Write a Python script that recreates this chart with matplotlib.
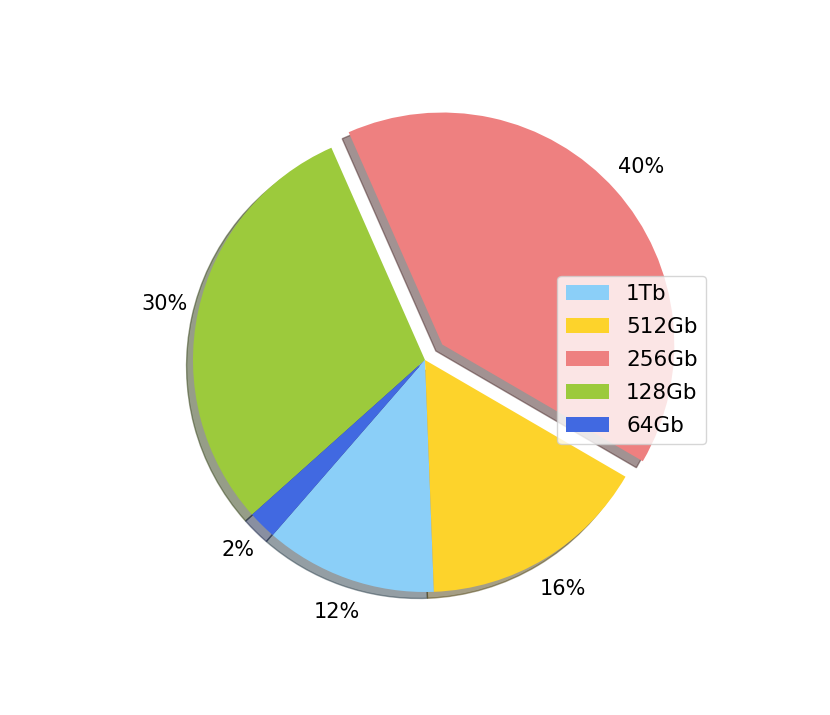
import matplotlib
matplotlib.use("Agg")
import matplotlib.pyplot as plt

labels = ['1Tb', '512Gb', '256Gb', '128Gb', '64Gb']
sizes = [12, 16, 40, 30, 2]
colors = ['#8bcff8', '#fdd32b', '#ee8080', '#9cca3c', '#4169e1']
explode = [0, 0, 0.1, 0, 0]

plt.rcParams['font.size'] = 15

fig = plt.figure(figsize=(8.3, 7.15), dpi=100)
# axes placed so the pie centre and radius match the reference
ax = fig.add_axes([(425 - 290) / 830, (355 - 290) / 715, 580 / 830, 580 / 715])

wedges, texts, autotexts = ax.pie(sizes, explode=explode, colors=colors,
                                  autopct='%1.0f%%', pctdistance=1.15,
                                  shadow=True, startangle=229)
ax.set_xlim(-1.25, 1.25)
ax.set_ylim(-1.25, 1.25)
ax.set_aspect('equal')
ax.legend(wedges, labels, loc='center right', fontsize=15.5,
          labelspacing=0.6, borderaxespad=0.4)

fig.savefig('out.png', dpi=100)
